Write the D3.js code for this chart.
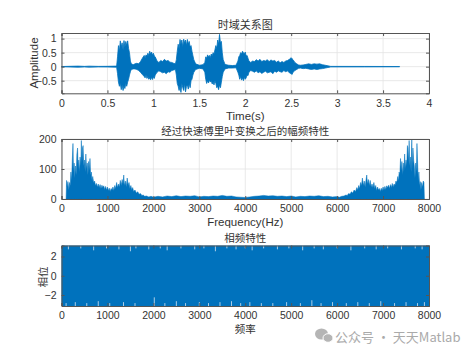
<!DOCTYPE html>
<html><head><meta charset="utf-8">
<script src="https://cdn.jsdelivr.net/npm/d3@7"></script>
<style>body{margin:0;background:#fff}svg{display:block}</style>
</head><body>
<script>
// ---- Data ----
const timeT  = [0,0.18,0.25,0.3,0.4,0.5,0.6,0.61,0.62,0.63,0.64,0.65,0.66,0.67,0.68,0.69,0.70,0.71,0.72,0.73,0.74,0.75,0.76,0.78,0.80,0.82,0.84,0.86,0.88,0.90,0.91,0.92,0.93,0.94,0.95,0.96,0.97,0.98,0.99,1.00,1.01,1.02,1.04,1.06,1.08,1.10,1.12,1.14,1.16,1.18,1.20,1.22,1.24,1.25,1.26,1.27,1.28,1.29,1.30,1.31,1.32,1.33,1.34,1.35,1.36,1.37,1.38,1.39,1.40,1.41,1.42,1.43,1.44,1.46,1.50,1.54,1.56,1.57,1.58,1.59,1.60,1.61,1.62,1.63,1.64,1.65,1.66,1.67,1.68,1.69,1.70,1.71,1.72,1.73,1.74,1.75,1.76,1.78,1.82,1.86,1.90,1.92,1.93,1.94,1.95,1.96,1.97,1.98,1.99,2.00,2.01,2.02,2.03,2.04,2.06,2.08,2.10,2.12,2.14,2.16,2.18,2.20,2.22,2.24,2.26,2.28,2.30,2.32,2.34,2.36,2.38,2.40,2.42,2.44,2.46,2.48,2.50,2.51,2.52,2.54,2.56,2.58,2.60,2.63,2.66,2.69,2.72,2.75,2.78,2.81,2.84,2.87,2.90,2.93,3.3,3.68];
const timeUp = [0.005,0.02,0.01,0.018,0.01,0.012,0.02,0.35,0.75,0.55,0.92,0.7,0.85,0.6,0.93,0.7,0.9,0.75,0.92,0.65,0.5,0.2,0.1,0.07,0.1,0.12,0.1,0.18,0.3,0.4,0.32,0.42,0.38,0.48,0.4,0.55,0.45,0.52,0.42,0.48,0.38,0.35,0.2,0.15,0.22,0.18,0.26,0.2,0.22,0.16,0.15,0.12,0.1,0.25,0.55,0.8,0.65,0.97,0.8,0.95,0.7,0.98,0.85,0.95,0.75,0.97,0.8,0.9,0.7,0.75,0.55,0.4,0.25,0.1,0.05,0.07,0.15,0.35,0.3,0.42,0.35,0.4,0.32,0.45,0.38,0.5,0.45,0.6,0.75,0.65,0.95,0.8,1.15,0.85,0.9,0.5,0.25,0.08,0.05,0.04,0.05,0.2,0.35,0.4,0.5,0.45,0.55,0.5,0.45,0.52,0.38,0.4,0.3,0.2,0.15,0.2,0.18,0.25,0.2,0.26,0.18,0.22,0.2,0.25,0.18,0.24,0.2,0.22,0.16,0.2,0.14,0.18,0.15,0.2,0.22,0.26,0.32,0.28,0.25,0.15,0.1,0.06,0.05,0.06,0.08,0.1,0.08,0.1,0.09,0.1,0.07,0.05,0.03,0.01,0.008,0.005];
const timeLo = [-0.005,-0.02,-0.01,-0.018,-0.01,-0.012,-0.02,-0.25,-0.55,-0.7,-0.6,-0.82,-0.65,-0.85,-0.7,-0.78,-0.6,-0.7,-0.55,-0.45,-0.3,-0.18,-0.1,-0.08,-0.08,-0.1,-0.14,-0.2,-0.28,-0.35,-0.4,-0.3,-0.42,-0.35,-0.45,-0.4,-0.47,-0.38,-0.46,-0.36,-0.42,-0.3,-0.2,-0.15,-0.18,-0.22,-0.2,-0.25,-0.18,-0.2,-0.14,-0.12,-0.1,-0.3,-0.6,-0.7,-0.85,-0.7,-0.92,-0.6,-0.75,-0.85,-0.6,-0.9,-0.7,-0.65,-0.8,-0.6,-0.75,-0.5,-0.45,-0.3,-0.2,-0.1,-0.06,-0.08,-0.2,-0.45,-0.6,-0.5,-0.58,-0.48,-0.55,-0.5,-0.62,-0.55,-0.65,-0.5,-0.6,-0.75,-0.7,-0.82,-0.65,-0.75,-0.55,-0.35,-0.2,-0.08,-0.05,-0.05,-0.04,-0.2,-0.3,-0.45,-0.35,-0.48,-0.4,-0.5,-0.38,-0.45,-0.4,-0.3,-0.32,-0.2,-0.14,-0.16,-0.2,-0.15,-0.22,-0.18,-0.24,-0.2,-0.16,-0.22,-0.2,-0.18,-0.25,-0.16,-0.2,-0.15,-0.18,-0.2,-0.14,-0.18,-0.15,-0.22,-0.25,-0.28,-0.2,-0.14,-0.1,-0.06,-0.05,-0.07,-0.06,-0.08,-0.1,-0.08,-0.1,-0.08,-0.07,-0.05,-0.03,-0.01,-0.008,-0.005];

const specF = [100,110,125,140,160,175,190,205,220,235,250,262,275,290,305,320,335,350,362,375,390,405,420,432,445,458,470,485,500,515,530,545,560,575,590,605,620,635,650,665,680,700,720,740,760,780,800,820,840,860,880,900,920,940,960,980,1000,1020,1040,1060,1080,1100,1120,1140,1160,1180,1200,1220,1240,1260,1280,1300,1320,1340,1355,1370,1390,1410,1430,1450,1470,1490,1510,1530,1550,1570,1600,1630,1660,1690,1720,1750,1780,1810,1850,1900,1950,2000,2100,2200,2300,2400,2500,2600,2700,2800,2900,3000,3100,3200,3300,3400,3500,3600,3700,3800,3900,4000,4100,4200,4300,4400,4500,4600,4700,4800,4900,5000,5100,5200,5300,5400,5500,5600,5700,5800,5900,6000,6050,6100,6150,6190,6220,6250,6280,6310,6340,6370,6400,6430,6450,6470,6490,6510,6530,6550,6570,6590,6610,6630,6645,6660,6680,6700,6720,6740,6760,6780,6800,6820,6840,6860,6880,6900,6920,6940,6960,6980,7000,7020,7040,7060,7080,7100,7120,7140,7160,7180,7200,7220,7240,7260,7280,7300,7320,7335,7350,7365,7380,7395,7410,7425,7440,7455,7470,7485,7500,7515,7530,7542,7555,7568,7580,7595,7610,7625,7638,7650,7665,7680,7695,7710,7725,7738,7750,7765,7780,7795,7810,7825,7840,7860,7875,7890,7900];
const specA = [0,62,40,58,30,55,45,90,60,130,185,90,120,70,110,80,150,170,100,130,90,140,110,195,120,170,178,110,130,90,150,100,120,80,125,95,135,80,90,60,75,55,60,45,52,40,50,38,48,35,46,38,44,32,42,30,40,28,36,25,35,30,40,28,45,35,55,38,50,40,62,45,65,50,80,45,60,40,70,45,55,35,45,30,38,25,30,20,24,16,18,12,13,9,10,7,9,6,9,7,10,8,11,8,10,9,11,7,9,8,10,9,12,9,10,7,6,5,7,9,10,12,10,11,9,10,8,10,7,9,8,10,9,11,8,9,7,8,6,9,10,13,12,18,16,24,20,30,25,38,30,45,35,55,45,70,45,60,40,65,80,50,65,45,62,40,50,38,55,35,45,28,40,30,35,25,36,28,40,30,42,32,44,38,46,35,48,38,52,40,50,45,60,55,75,60,90,80,135,95,125,80,120,90,150,100,130,110,178,170,120,195,110,140,90,200,100,170,130,110,70,120,90,185,130,60,90,45,58,30,55,40,60,55,0];

const phaseF = [0,8000];
const phaseHi = [Math.PI, Math.PI];
const phaseLo = [-Math.PI, -Math.PI];
const notchTopF = [150,420,700,980,1250,1500,1620,1900,2150,2300,2600,2900,3100,3350,3600,3800,4000,4150,4400,4700,4950,5250,5500,5700,6000,6300,6600,6850,7100,7400,7700,7850];
const notchTopD = [0.4,0.3,0.5,0.3,0.4,0.6,0.3,0.4,0.3,0.5,0.3,0.4,0.3,0.6,0.3,0.4,0.3,0.5,0.3,0.4,0.3,0.5,0.3,0.4,0.3,0.5,0.3,0.4,0.3,0.4,0.3,0.4];
const notchBotF = [100,300,550,800,1050,1350,1600,2020,2250,2500,2700,3000,3200,3450,3700,3900,4100,4350,4600,4900,5200,5450,5650,5900,6200,6450,6700,6950,7250,7500,7750,7900];
const notchBotD = [0.3,0.4,0.3,0.5,0.3,0.4,0.3,0.9,0.3,0.5,0.3,0.4,0.3,0.4,0.5,0.3,0.4,0.3,0.3,0.4,0.3,0.6,0.3,0.4,0.3,0.4,0.3,0.5,0.3,0.4,0.3,0.4];

const timeTicks = [0,0.5,1,1.5,2,2.5,3,3.5,4];
const ampTicks = [-0.5,0,0.5,1];
const freqTicks = [0,1000,2000,3000,4000,5000,6000,7000,8000];
const magTicks = [0,100,200];
const phaseTicks = [-2,0,2];

// ---- Drawing ----
const W=474,H=355, BLUE="#0072BD", AX="#555", TXT="#333", GRID="#e3e3e3";
const svg=d3.select("body").append("svg").attr("width",W).attr("height",H);
const L=61.5, R=429;
const numFont="'Liberation Sans', Arial, sans-serif", cjk="'Noto Sans CJK SC', sans-serif";

function panel(top,bottom,xDom,yDom,xt,yt,fmtX,fmtY){
  const x=d3.scaleLinear().domain(xDom).range([L,R]);
  const y=d3.scaleLinear().domain(yDom).range([bottom,top]);
  const g=svg.append("g");
  g.selectAll(".gx").data(xt).enter().append("line").attr("x1",d=>x(d)).attr("x2",d=>x(d)).attr("y1",top).attr("y2",bottom).attr("stroke",GRID).attr("stroke-width",0.8);
  g.selectAll(".gy").data(yt).enter().append("line").attr("x1",L).attr("x2",R).attr("y1",d=>y(d)).attr("y2",d=>y(d)).attr("stroke",GRID).attr("stroke-width",0.8);
  return {x,y,g,top,bottom,fmtX,fmtY,xt,yt};
}
function frame(p){
  const {x,y,top,bottom,xt,yt}=p;
  const g=svg.append("g");
  const ax=g.append("g").attr("transform",`translate(0,${bottom})`).call(d3.axisBottom(x).tickValues(xt).tickSize(-3).tickPadding(6).tickFormat(p.fmtX));
  const ay=g.append("g").attr("transform",`translate(${L},0)`).call(d3.axisLeft(y).tickValues(yt).tickSize(-3).tickPadding(5).tickFormat(p.fmtY));
  const at=g.append("g").attr("transform",`translate(0,${top})`).call(d3.axisTop(x).tickValues(xt).tickSize(-3).tickFormat(""));
  const ar=g.append("g").attr("transform",`translate(${R},0)`).call(d3.axisRight(y).tickValues(yt).tickSize(-3).tickFormat(""));
  [ax,ay,at,ar].forEach(a=>{a.select(".domain").attr("stroke",AX).attr("stroke-width",1);a.selectAll(".tick line").attr("stroke",AX);
    a.selectAll("text").attr("font-family",numFont).attr("font-size",10.5).attr("fill",TXT);});
}

// Panel 1
const p1=panel(33,93.3,[0,4],[-0.95,1.2],timeTicks,ampTicks,d3.format(""),d3.format(""));
p1.g.append("path").datum(timeT.map((t,i)=>[t,timeUp[i],timeLo[i]]))
  .attr("d",d3.area().x(d=>p1.x(d[0])).y0(d=>p1.y(d[2])).y1(d=>p1.y(d[1])))
  .attr("fill",BLUE).attr("stroke",BLUE).attr("stroke-width",0.8);
frame(p1);

// Panel 2
const p2=panel(139,199,[0,8000],[0,200],freqTicks,magTicks,d3.format(""),d3.format(""));
p2.g.append("path").datum(specF.map((f,i)=>[f,specA[i]]))
  .attr("d",d3.area().x(d=>p2.x(d[0])).y0(p2.y(0)).y1(d=>p2.y(d[1])))
  .attr("fill",BLUE).attr("stroke",BLUE).attr("stroke-width",0.5);
frame(p2);

// Panel 3
const p3=panel(245.5,306,[0,8000],[-Math.PI,Math.PI],freqTicks,phaseTicks,d3.format(""),d3.format(""));
p3.g.append("path").datum(phaseF.map((f,i)=>[f,phaseHi[i],phaseLo[i]]))
  .attr("d",d3.area().x(d=>p3.x(d[0])).y0(d=>p3.y(d[2])).y1(d=>p3.y(d[1]))).attr("fill",BLUE);
p3.g.selectAll(".nt").data(notchTopF).enter().append("line")
  .attr("x1",d=>p3.x(d)).attr("x2",d=>p3.x(d)).attr("y1",p3.y(Math.PI)).attr("y2",(d,i)=>p3.y(Math.PI-notchTopD[i]))
  .attr("stroke","#d8e6f2").attr("stroke-width",0.8);
p3.g.selectAll(".nb").data(notchBotF).enter().append("line")
  .attr("x1",d=>p3.x(d)).attr("x2",d=>p3.x(d)).attr("y1",p3.y(-Math.PI)).attr("y2",(d,i)=>p3.y(-Math.PI+notchBotD[i]))
  .attr("stroke","#d8e6f2").attr("stroke-width",0.8);
frame(p3);

// Titles & labels
const txt=(x,y,s,f,sz,rot)=>{const t=svg.append("text").attr("x",x).attr("y",y).attr("text-anchor","middle").attr("dominant-baseline","central")
  .attr("font-family",f).attr("font-size",sz).attr("fill",TXT).text(s); if(rot) t.attr("transform",`rotate(-90,${x},${y})`); return t;};
const cx=(L+R)/2;
txt(cx,24,"时域关系图",cjk,11);
txt(cx,116,"Time(s)",numFont,11.5);
txt(34,63,"Amplitude",numFont,11.5,true);
txt(cx,130.5,"经过快速傅里叶变换之后的幅频特性",cjk,10.5);
txt(cx,222,"Frequency(Hz)",numFont,11.5);
txt(cx,237.5,"相频特性",cjk,10.5);
txt(cx,328,"频率",cjk,10.5);
txt(42,277,"相位",cjk,10.5,true);

// Watermark
const wm=svg.append("g").attr("fill","#b5b5b5");
wm.append("ellipse").attr("cx",321.5).attr("cy",334).attr("rx",6.5).attr("ry",5.5);
wm.append("ellipse").attr("cx",328).attr("cy",338).attr("rx",5).attr("ry",4.3).attr("stroke","#fff").attr("stroke-width",1);
svg.append("text").attr("x",335).attr("y",336).attr("dominant-baseline","central").attr("font-family",cjk)
  .attr("font-size",13).attr("fill","#aaa").text("公众号 · 天天Matlab");
</script>
</body></html>
